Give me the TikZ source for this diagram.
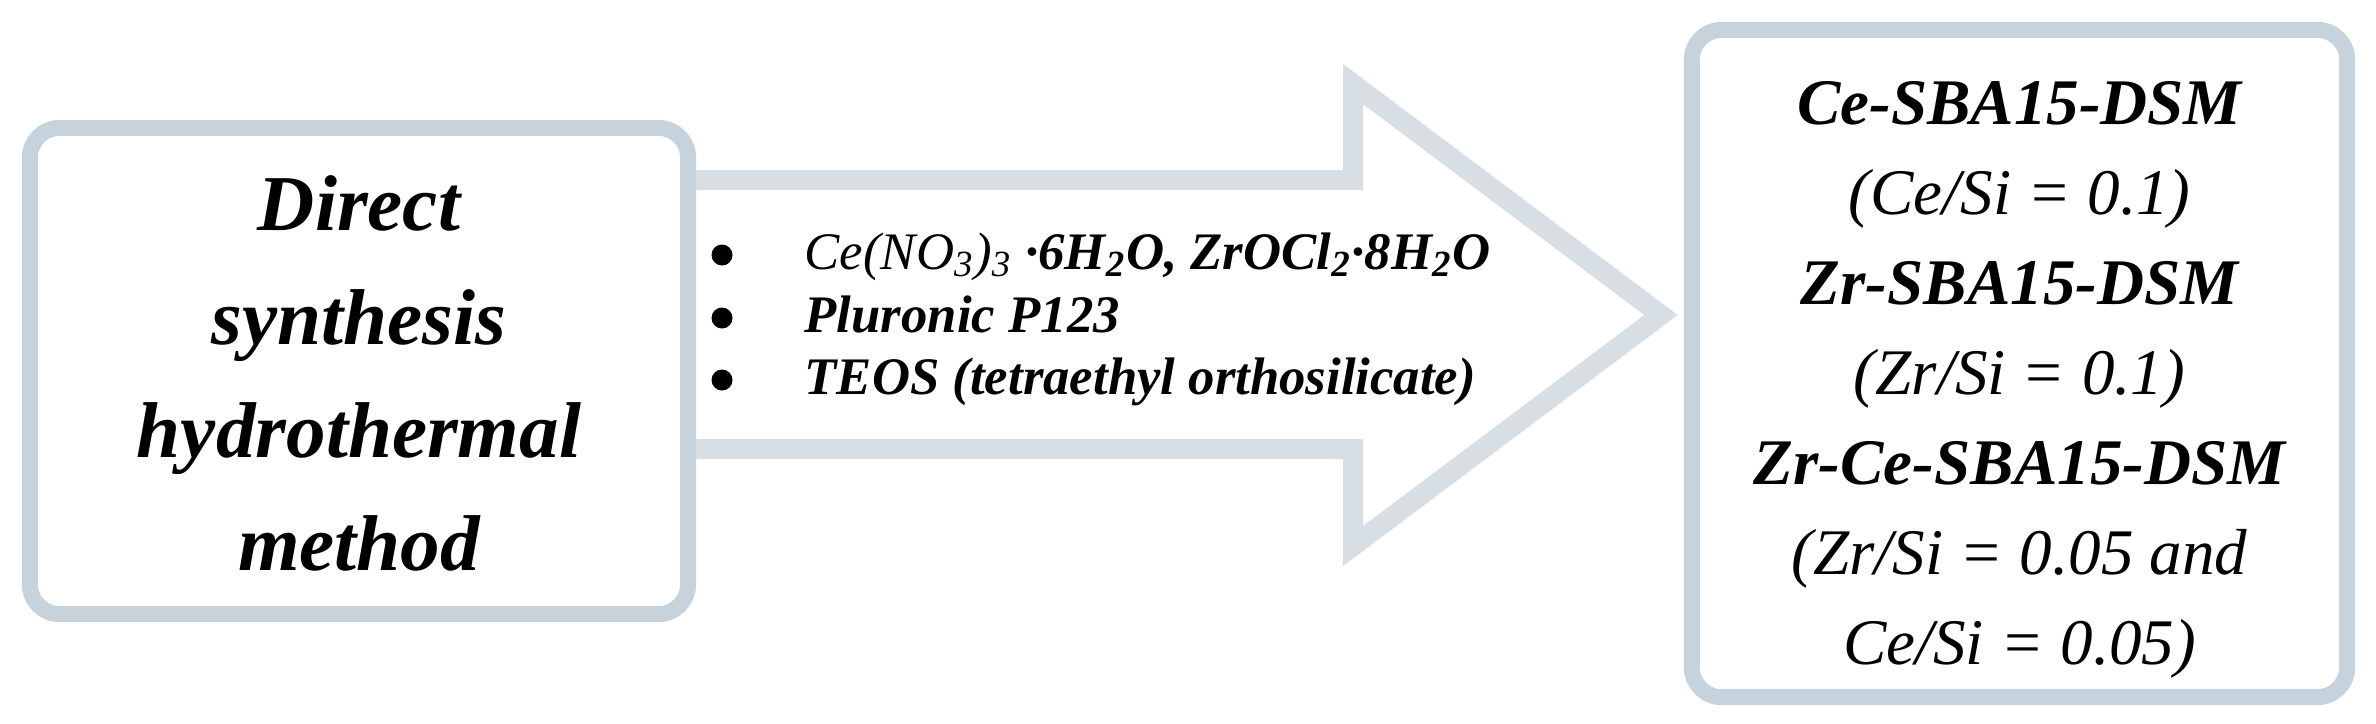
\documentclass[tikz,border=0pt]{standalone}
\usepackage{fontspec}
\setmainfont{Liberation Serif}
\definecolor{bordecaja}{RGB}{198,210,220}
\definecolor{bordeflecha}{RGB}{215,222,228}

\begin{document}
\begin{tikzpicture}[x=0.01cm, y=-0.01cm,
    caja/.style={draw=bordecaja, line width=0.16cm, rounded corners=0.3cm,
                 fill=white, inner sep=0pt},
    flecha/.style={draw=bordeflecha, line width=0.2cm, line join=miter},
    reactivo/.style={anchor=base west, inner sep=0pt,
                     font=\fontsize{15}{18}\selectfont\itshape}]
  % Fondo
  \fill[white] (0,0) rectangle (2376,723);
  \useasboundingbox (0,0) rectangle (2376,723);

  % Flecha grande
  \draw[flecha] (600,180) -- (1353,180) -- (1353,84) -- (1661,315)
                -- (1353,546) -- (1353,449) -- (600,449);

  % Cajas
  \node[caja, minimum width=6.58cm, minimum height=4.86cm] (metodo) at (359,371) {};
  \node[caja, minimum width=6.55cm, minimum height=6.67cm] (productos) at (2019.5,363.5) {};

  % Textos de las cajas
  \node[align=center, inner sep=0pt,
        font=\fontsize{22.5}{32.15}\selectfont\bfseries\itshape]
        (metodotxt) at (359,373.5) {Direct\\synthesis\\hydrothermal\\method};
  \node[align=center, inner sep=0pt,
        font=\fontsize{18.5}{25.6}\selectfont\itshape]
        (productostxt) at (2019.5,379.5)
        {\textbf{Ce-SBA15-DSM}\\(Ce/Si = 0.1)\\\textbf{Zr-SBA15-DSM}\\(Zr/Si = 0.1)\\
         \textbf{Zr-Ce-SBA15-DSM}\\(Zr/Si = 0.05 and\\Ce/Si = 0.05)};

  % Reactivos
  \node[reactivo] (reactivoA) at (804,269)
        {Ce(NO\textsubscript{3})\textsubscript{3}
         \textbf{·6H\textsubscript{2}O, ZrOCl\textsubscript{2}·8H\textsubscript{2}O}};
  \node[reactivo] (reactivoB) at (804,332) {\textbf{Pluronic P123}};
  \node[reactivo] (reactivoC) at (804,394) {\textbf{TEOS (tetraethyl orthosilicate)}};

  % Vinetas
  \foreach \n in {reactivoA,reactivoB,reactivoC}
    \fill ([shift={(-82,-14)}]\n.base west) circle[radius=0.105cm];

\end{tikzpicture}
\end{document}
